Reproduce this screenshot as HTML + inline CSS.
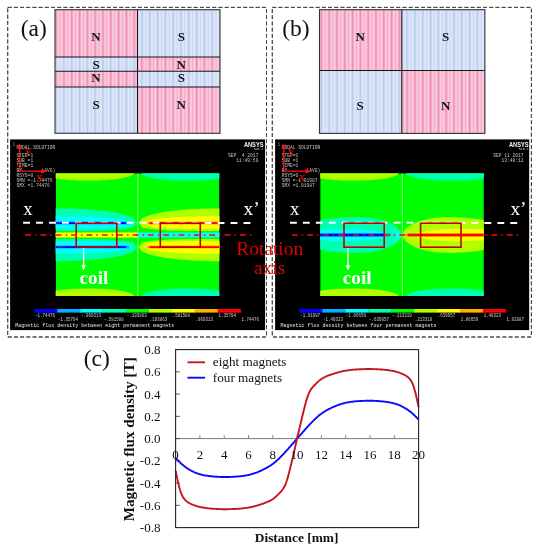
<!DOCTYPE html><html><head><meta charset="utf-8"><title>Figure</title>
<style>html,body{margin:0;padding:0;background:#fff;}svg{display:block;}.s{font-family:"Liberation Serif",serif;}.m{font-family:"Liberation Mono",monospace;fill:#c0c0c0;font-size:4.6px;}.a{font-family:"Liberation Sans",sans-serif;}</style></head><body>
<svg width="536" height="550" viewBox="0 0 536 550">
<defs>
<linearGradient id="gpk" x1="0" x2="1" y1="0" y2="0"><stop offset="0" stop-color="#f9c9dc"/><stop offset="0.2" stop-color="#f086b2"/><stop offset="0.36" stop-color="#f7b5cf"/><stop offset="0.5" stop-color="#fbdbe7"/><stop offset="0.7" stop-color="#f5a3c4"/><stop offset="0.86" stop-color="#fbd5e3"/><stop offset="1" stop-color="#f9c9dc"/></linearGradient>
<linearGradient id="gbl" x1="0" x2="1" y1="0" y2="0"><stop offset="0" stop-color="#d9e4f7"/><stop offset="0.2" stop-color="#b4c9ee"/><stop offset="0.36" stop-color="#d0ddf5"/><stop offset="0.5" stop-color="#e8eefa"/><stop offset="0.7" stop-color="#c5d5f2"/><stop offset="0.86" stop-color="#e4ecfa"/><stop offset="1" stop-color="#d9e4f7"/></linearGradient>
<pattern id="pk" width="7.8" height="8" patternUnits="userSpaceOnUse"><rect width="7.8" height="8" fill="url(#gpk)"/></pattern>
<pattern id="bl" width="7.8" height="8" patternUnits="userSpaceOnUse"><rect width="7.8" height="8" fill="url(#gbl)"/></pattern>
<clipPath id="ca"><rect x="55.7" y="173.3" width="163.7" height="122.8"/></clipPath>
<clipPath id="cb"><rect x="320.2" y="173.3" width="163.6" height="122.8"/></clipPath>
<filter id="bl1" x="-5%" y="-5%" width="110%" height="110%"><feGaussianBlur stdDeviation="0.5"/></filter>
</defs>
<rect width="536" height="550" fill="#fff"/>
<rect x="7.7" y="7.4" width="258.8" height="329.6" fill="none" stroke="#444" stroke-width="0.95" stroke-dasharray="3.9 2.3"/>
<rect x="272.3" y="7.4" width="259.09999999999997" height="329.6" fill="none" stroke="#444" stroke-width="0.95" stroke-dasharray="3.9 2.3"/>
<rect x="55" y="9.7" width="82.5" height="47.3" fill="url(#pk)"/>
<rect x="137.5" y="9.7" width="82.5" height="47.3" fill="url(#bl)"/>
<rect x="55" y="57" width="82.5" height="14.200000000000003" fill="url(#bl)"/>
<rect x="137.5" y="57" width="82.5" height="14.200000000000003" fill="url(#pk)"/>
<rect x="55" y="71.2" width="82.5" height="15.799999999999997" fill="url(#pk)"/>
<rect x="137.5" y="71.2" width="82.5" height="15.799999999999997" fill="url(#bl)"/>
<rect x="55" y="87" width="82.5" height="46.30000000000001" fill="url(#bl)"/>
<rect x="137.5" y="87" width="82.5" height="46.30000000000001" fill="url(#pk)"/>
<line x1="55" y1="57" x2="220" y2="57" stroke="#151515" stroke-width="1.1"/>
<line x1="55" y1="71.2" x2="220" y2="71.2" stroke="#151515" stroke-width="1.1"/>
<line x1="55" y1="87" x2="220" y2="87" stroke="#151515" stroke-width="1.1"/>
<line x1="137.5" y1="9.7" x2="137.5" y2="133.3" stroke="#151515" stroke-width="1.1"/>
<rect x="55" y="9.7" width="165" height="123.60000000000001" fill="none" stroke="#333" stroke-width="1.1"/>
<text class="s" x="96.05" y="40.9" font-size="13" font-weight="bold" text-anchor="middle" fill="#111">N</text>
<text class="s" x="181.25" y="40.9" font-size="13" font-weight="bold" text-anchor="middle" fill="#111">S</text>
<text class="s" x="96.05" y="69.30000000000001" font-size="13" font-weight="bold" text-anchor="middle" fill="#111">S</text>
<text class="s" x="181.25" y="69.30000000000001" font-size="13" font-weight="bold" text-anchor="middle" fill="#111">N</text>
<text class="s" x="96.05" y="82.2" font-size="13" font-weight="bold" text-anchor="middle" fill="#111">N</text>
<text class="s" x="181.25" y="82.2" font-size="13" font-weight="bold" text-anchor="middle" fill="#111">S</text>
<text class="s" x="96.05" y="109.30000000000001" font-size="13" font-weight="bold" text-anchor="middle" fill="#111">S</text>
<text class="s" x="181.25" y="109.30000000000001" font-size="13" font-weight="bold" text-anchor="middle" fill="#111">N</text>
<rect x="319.5" y="9.7" width="82.30000000000001" height="60.8" fill="url(#pk)"/>
<rect x="401.8" y="9.7" width="83.09999999999997" height="60.8" fill="url(#bl)"/>
<rect x="319.5" y="70.5" width="82.30000000000001" height="62.900000000000006" fill="url(#bl)"/>
<rect x="401.8" y="70.5" width="83.09999999999997" height="62.900000000000006" fill="url(#pk)"/>
<line x1="319.5" y1="70.5" x2="484.9" y2="70.5" stroke="#151515" stroke-width="1.1"/>
<line x1="401.8" y1="9.7" x2="401.8" y2="133.4" stroke="#151515" stroke-width="1.1"/>
<rect x="319.5" y="9.7" width="165.39999999999998" height="123.7" fill="none" stroke="#333" stroke-width="1.1"/>
<text class="s" x="360.15" y="41.0" font-size="13" font-weight="bold" text-anchor="middle" fill="#111">N</text>
<text class="s" x="445.65000000000003" y="41.0" font-size="13" font-weight="bold" text-anchor="middle" fill="#111">S</text>
<text class="s" x="360.15" y="110.2" font-size="13" font-weight="bold" text-anchor="middle" fill="#111">S</text>
<text class="s" x="445.65000000000003" y="110.2" font-size="13" font-weight="bold" text-anchor="middle" fill="#111">N</text>
<text class="s" x="20.7" y="36.2" font-size="23.5" fill="#111">(a)</text>
<text class="s" x="282.2" y="36.2" font-size="23.5" fill="#111">(b)</text>
<text class="s" x="83.7" y="365.9" font-size="23.5" fill="#111">(c)</text>
<rect x="10.1" y="139.4" width="255.00000000000003" height="190.70000000000002" fill="#000"/>
<g clip-path="url(#ca)">
<rect x="55.7" y="173.3" width="163.7" height="122.80000000000001" fill="#00ff00"/>
<ellipse cx="88.30000000000001" cy="173.3" rx="45.8" ry="7.2" fill="#b2ff00"/>
<ellipse cx="187.3" cy="173.3" rx="45.8" ry="7.2" fill="#00ffb2"/>
<ellipse cx="88.30000000000001" cy="296.1" rx="45.8" ry="7.6" fill="#b2ff00"/>
<ellipse cx="187.3" cy="296.1" rx="45.8" ry="7.6" fill="#00ffb2"/>
<path d="M54.70 208.40 L58.13 208.41 L61.56 208.44 L64.99 208.49 L68.42 208.56 L71.85 208.66 L75.28 208.78 L78.70 208.93 L82.13 209.11 L85.56 209.32 L88.99 209.56 L92.42 209.83 L95.85 210.13 L99.28 210.48 L102.71 210.87 L106.14 211.31 L109.57 211.80 L113.00 212.35 L116.42 212.98 L119.85 213.70 L123.28 214.54 L126.71 215.53 L130.14 216.77 L133.57 218.47 L137.00 223.00 L137.00 223.00 L133.57 227.20 L130.14 228.14 L126.71 228.75 L123.28 229.20 L119.85 229.55 L116.42 229.83 L113.00 230.05 L109.57 230.24 L106.14 230.40 L102.71 230.52 L99.28 230.63 L95.85 230.72 L92.42 230.79 L88.99 230.84 L85.56 230.89 L82.13 230.92 L78.70 230.95 L75.28 230.97 L71.85 230.98 L68.42 230.99 L64.99 231.00 L61.56 231.00 L58.13 231.00 L54.70 231.00Z" fill="#00ffb2"/>
<path d="M54.70 216.20 L57.89 216.20 L61.08 216.22 L64.28 216.24 L67.47 216.28 L70.66 216.32 L73.85 216.38 L77.04 216.45 L80.23 216.53 L83.43 216.63 L86.62 216.74 L89.81 216.86 L93.00 217.01 L96.19 217.17 L99.38 217.35 L102.58 217.55 L105.77 217.78 L108.96 218.04 L112.15 218.33 L115.34 218.67 L118.53 219.06 L121.73 219.52 L124.92 220.10 L128.11 220.89 L131.30 223.00 L131.30 223.00 L128.11 226.05 L124.92 226.73 L121.73 227.17 L118.53 227.49 L115.34 227.75 L112.15 227.95 L108.96 228.11 L105.77 228.25 L102.58 228.36 L99.38 228.45 L96.19 228.53 L93.00 228.59 L89.81 228.65 L86.62 228.69 L83.43 228.72 L80.23 228.75 L77.04 228.76 L73.85 228.78 L70.66 228.79 L67.47 228.79 L64.28 228.80 L61.08 228.80 L57.89 228.80 L54.70 228.80Z" fill="#00ffff"/>
<rect x="49.70" y="221.60" width="79.60" height="3.0" rx="1.5" fill="#00b2ff"/>
<rect x="49.70" y="222.25" width="76.60" height="1.7" rx="0.85" fill="#0000ff"/>
<path d="M54.70 261.20 L58.13 261.19 L61.56 261.16 L64.99 261.11 L68.42 261.04 L71.85 260.95 L75.28 260.83 L78.70 260.68 L82.13 260.51 L85.56 260.31 L88.99 260.08 L92.42 259.81 L95.85 259.51 L99.28 259.18 L102.71 258.80 L106.14 258.37 L109.57 257.89 L113.00 257.36 L116.42 256.74 L119.85 256.04 L123.28 255.23 L126.71 254.26 L130.14 253.06 L133.57 251.40 L137.00 247.00 L137.00 247.00 L133.57 242.80 L130.14 241.86 L126.71 241.25 L123.28 240.80 L119.85 240.45 L116.42 240.17 L113.00 239.95 L109.57 239.76 L106.14 239.60 L102.71 239.48 L99.28 239.37 L95.85 239.28 L92.42 239.21 L88.99 239.16 L85.56 239.11 L82.13 239.08 L78.70 239.05 L75.28 239.03 L71.85 239.02 L68.42 239.01 L64.99 239.00 L61.56 239.00 L58.13 239.00 L54.70 239.00Z" fill="#00ffb2"/>
<path d="M54.70 253.80 L57.89 253.80 L61.08 253.78 L64.28 253.76 L67.47 253.72 L70.66 253.68 L73.85 253.62 L77.04 253.55 L80.23 253.47 L83.43 253.37 L86.62 253.26 L89.81 253.14 L93.00 252.99 L96.19 252.83 L99.38 252.65 L102.58 252.45 L105.77 252.22 L108.96 251.96 L112.15 251.67 L115.34 251.33 L118.53 250.94 L121.73 250.48 L124.92 249.90 L128.11 249.11 L131.30 247.00 L131.30 247.00 L128.11 243.95 L124.92 243.27 L121.73 242.83 L118.53 242.51 L115.34 242.25 L112.15 242.05 L108.96 241.89 L105.77 241.75 L102.58 241.64 L99.38 241.55 L96.19 241.47 L93.00 241.41 L89.81 241.35 L86.62 241.31 L83.43 241.28 L80.23 241.25 L77.04 241.24 L73.85 241.22 L70.66 241.21 L67.47 241.21 L64.28 241.20 L61.08 241.20 L57.89 241.20 L54.70 241.20Z" fill="#00ffff"/>
<rect x="49.70" y="245.60" width="79.60" height="3.0" rx="1.5" fill="#00b2ff"/>
<rect x="49.70" y="246.25" width="76.60" height="1.7" rx="0.85" fill="#0000ff"/>
<rect x="49.70" y="232.20" width="89.60" height="5.6" rx="2.8" fill="#b2ff00"/>
<rect x="49.70" y="233.10" width="88.60" height="3.8" rx="1.9" fill="#ffff00"/>
<path d="M220.40 208.40 L216.99 208.41 L213.58 208.44 L210.17 208.49 L206.77 208.56 L203.36 208.66 L199.95 208.78 L196.54 208.93 L193.13 209.11 L189.72 209.32 L186.32 209.56 L182.91 209.83 L179.50 210.13 L176.09 210.48 L172.68 210.87 L169.28 211.31 L165.87 211.80 L162.46 212.35 L159.05 212.98 L155.64 213.70 L152.23 214.54 L148.83 215.53 L145.42 216.77 L142.01 218.47 L138.60 223.00 L138.60 223.00 L142.01 227.20 L145.42 228.14 L148.83 228.75 L152.23 229.20 L155.64 229.55 L159.05 229.83 L162.46 230.05 L165.87 230.24 L169.28 230.40 L172.68 230.52 L176.09 230.63 L179.50 230.72 L182.91 230.79 L186.32 230.84 L189.72 230.89 L193.13 230.92 L196.54 230.95 L199.95 230.97 L203.36 230.98 L206.77 230.99 L210.17 231.00 L213.58 231.00 L216.99 231.00 L220.40 231.00Z" fill="#b2ff00"/>
<path d="M220.40 216.20 L217.23 216.20 L214.06 216.22 L210.89 216.24 L207.72 216.28 L204.55 216.32 L201.38 216.38 L198.20 216.45 L195.03 216.53 L191.86 216.63 L188.69 216.74 L185.52 216.86 L182.35 217.01 L179.18 217.17 L176.01 217.35 L172.84 217.55 L169.67 217.78 L166.50 218.04 L163.32 218.33 L160.15 218.67 L156.98 219.06 L153.81 219.52 L150.64 220.10 L147.47 220.89 L144.30 223.00 L144.30 223.00 L147.47 226.05 L150.64 226.73 L153.81 227.17 L156.98 227.49 L160.15 227.75 L163.32 227.95 L166.50 228.11 L169.67 228.25 L172.84 228.36 L176.01 228.45 L179.18 228.53 L182.35 228.59 L185.52 228.65 L188.69 228.69 L191.86 228.72 L195.03 228.75 L198.20 228.76 L201.38 228.78 L204.55 228.79 L207.72 228.79 L210.89 228.80 L214.06 228.80 L217.23 228.80 L220.40 228.80Z" fill="#ffff00"/>
<rect x="146.30" y="221.60" width="79.10" height="3.0" rx="1.5" fill="#ffb200"/>
<rect x="149.30" y="222.25" width="76.10" height="1.7" rx="0.85" fill="#ff0000"/>
<path d="M220.40 261.20 L216.99 261.19 L213.58 261.16 L210.17 261.11 L206.77 261.04 L203.36 260.95 L199.95 260.83 L196.54 260.68 L193.13 260.51 L189.72 260.31 L186.32 260.08 L182.91 259.81 L179.50 259.51 L176.09 259.18 L172.68 258.80 L169.28 258.37 L165.87 257.89 L162.46 257.36 L159.05 256.74 L155.64 256.04 L152.23 255.23 L148.83 254.26 L145.42 253.06 L142.01 251.40 L138.60 247.00 L138.60 247.00 L142.01 242.80 L145.42 241.86 L148.83 241.25 L152.23 240.80 L155.64 240.45 L159.05 240.17 L162.46 239.95 L165.87 239.76 L169.28 239.60 L172.68 239.48 L176.09 239.37 L179.50 239.28 L182.91 239.21 L186.32 239.16 L189.72 239.11 L193.13 239.08 L196.54 239.05 L199.95 239.03 L203.36 239.02 L206.77 239.01 L210.17 239.00 L213.58 239.00 L216.99 239.00 L220.40 239.00Z" fill="#b2ff00"/>
<path d="M220.40 253.80 L217.23 253.80 L214.06 253.78 L210.89 253.76 L207.72 253.72 L204.55 253.68 L201.38 253.62 L198.20 253.55 L195.03 253.47 L191.86 253.37 L188.69 253.26 L185.52 253.14 L182.35 252.99 L179.18 252.83 L176.01 252.65 L172.84 252.45 L169.67 252.22 L166.50 251.96 L163.32 251.67 L160.15 251.33 L156.98 250.94 L153.81 250.48 L150.64 249.90 L147.47 249.11 L144.30 247.00 L144.30 247.00 L147.47 243.95 L150.64 243.27 L153.81 242.83 L156.98 242.51 L160.15 242.25 L163.32 242.05 L166.50 241.89 L169.67 241.75 L172.84 241.64 L176.01 241.55 L179.18 241.47 L182.35 241.41 L185.52 241.35 L188.69 241.31 L191.86 241.28 L195.03 241.25 L198.20 241.24 L201.38 241.22 L204.55 241.21 L207.72 241.21 L210.89 241.20 L214.06 241.20 L217.23 241.20 L220.40 241.20Z" fill="#ffff00"/>
<rect x="146.30" y="245.60" width="79.10" height="3.0" rx="1.5" fill="#ffb200"/>
<rect x="149.30" y="246.25" width="76.10" height="1.7" rx="0.85" fill="#ff0000"/>
<rect x="136.30" y="232.20" width="89.10" height="5.6" rx="2.8" fill="#00ffb2"/>
<rect x="137.30" y="233.10" width="88.10" height="3.8" rx="1.9" fill="#00ffff"/>
<line x1="137.8" y1="173.3" x2="137.8" y2="296.1" stroke="#a6ffa0" stroke-width="0.8"/>
</g>
<text class="m" x="12.5" y="145.5" font-size="4" style="fill:#2a9">1</text>
<text class="m" x="16.6" y="149" xml:space="preserve">NODAL SOLUTION</text>
<text class="m" x="16.6" y="156.9" xml:space="preserve">STEP=1</text>
<text class="m" x="16.6" y="161.9" xml:space="preserve">SUB =1</text>
<text class="m" x="16.6" y="166.9" xml:space="preserve">TIME=1</text>
<text class="m" x="16.6" y="171.7" xml:space="preserve">BY       (AVG)</text>
<text class="m" x="16.6" y="176.9" xml:space="preserve">RSYS=0</text>
<text class="m" x="16.6" y="182.1" xml:space="preserve">SMN =-1.74476</text>
<text class="m" x="16.6" y="187.1" xml:space="preserve">SMX =1.74476</text>
<text class="a" x="263.5" y="146.6" font-size="7.6" font-weight="bold" fill="#f4f4f4" text-anchor="end" textLength="19.6" lengthAdjust="spacingAndGlyphs">ANSYS</text>
<text class="m" x="263.3" y="149.6" font-size="3.2" text-anchor="end" style="font-size:3.2px">R16.1</text>
<text class="m" x="258.4" y="157.1" text-anchor="end" xml:space="preserve">SEP  4 2017</text>
<text class="m" x="258.4" y="162.3" text-anchor="end">11:49:59</text>
<rect x="34.30" y="309" width="23.13" height="3.6" fill="#0000ff"/>
<rect x="57.23" y="309" width="23.13" height="3.6" fill="#00b2ff"/>
<rect x="80.16" y="309" width="23.13" height="3.6" fill="#00ffff"/>
<rect x="103.09" y="309" width="23.13" height="3.6" fill="#00ffb2"/>
<rect x="126.02" y="309" width="23.13" height="3.6" fill="#00ff00"/>
<rect x="148.95" y="309" width="23.13" height="3.6" fill="#b2ff00"/>
<rect x="171.88" y="309" width="23.13" height="3.6" fill="#ffff00"/>
<rect x="194.81" y="309" width="23.13" height="3.6" fill="#ffb200"/>
<rect x="217.74" y="309" width="23.13" height="3.6" fill="#ff0000"/>
<text class="m" x="35.10" y="316.9" style="font-size:4.8px;fill:#d0d0d0" textLength="19.92" lengthAdjust="spacingAndGlyphs">-1.74476</text>
<text class="m" x="58.03" y="320.6" style="font-size:4.8px;fill:#d0d0d0" textLength="19.92" lengthAdjust="spacingAndGlyphs">-1.35704</text>
<text class="m" x="80.96" y="316.9" style="font-size:4.8px;fill:#d0d0d0" textLength="19.92" lengthAdjust="spacingAndGlyphs">-.969313</text>
<text class="m" x="103.89" y="320.6" style="font-size:4.8px;fill:#d0d0d0" textLength="19.92" lengthAdjust="spacingAndGlyphs">-.581588</text>
<text class="m" x="126.82" y="316.9" style="font-size:4.8px;fill:#d0d0d0" textLength="19.92" lengthAdjust="spacingAndGlyphs">-.193863</text>
<text class="m" x="149.75" y="320.6" style="font-size:4.8px;fill:#d0d0d0" textLength="17.43" lengthAdjust="spacingAndGlyphs">.193863</text>
<text class="m" x="172.68" y="316.9" style="font-size:4.8px;fill:#d0d0d0" textLength="17.43" lengthAdjust="spacingAndGlyphs">.581588</text>
<text class="m" x="195.61" y="320.6" style="font-size:4.8px;fill:#d0d0d0" textLength="17.43" lengthAdjust="spacingAndGlyphs">.969313</text>
<text class="m" x="218.54" y="316.9" style="font-size:4.8px;fill:#d0d0d0" textLength="17.43" lengthAdjust="spacingAndGlyphs">1.35704</text>
<text class="m" x="241.47" y="320.6" style="font-size:4.8px;fill:#d0d0d0" textLength="17.43" lengthAdjust="spacingAndGlyphs">1.74476</text>
<text class="m" x="15.3" y="326.7" style="font-size:5px;fill:#e8e8e8">Magnetic flux density between eight permanent magnets</text>
<path d="M19.6 146 V171.2 H43.6" fill="none" stroke="#ff1010" stroke-width="1.3"/>
<path d="M17.200000000000003 148.6 L19.6 143.4 L22.0 148.6 Z" fill="#ff1010"/>
<path d="M41.2 168.9 L46.400000000000006 171.3 L41.2 173.7 Z" fill="#ff1010"/>
<text class="s" x="24.700000000000003" y="154.3" font-size="13.5" fill="#ff1010">y</text>
<text class="s" x="35.900000000000006" y="181.2" font-size="13.5" fill="#ff1010">x</text>
<line x1="23.1" y1="222.8" x2="251" y2="222.9" stroke="#fff" stroke-width="2" stroke-dasharray="6.9 6.065"/>
<rect x="76.2" y="223.2" width="40.599999999999994" height="24" fill="none" stroke="#c00000" stroke-width="1.6"/>
<rect x="160.3" y="223.2" width="40.0" height="24" fill="none" stroke="#c00000" stroke-width="1.6"/>
<line x1="25.1" y1="235.1" x2="252.6" y2="235.1" stroke="#f60808" stroke-width="1.5" stroke-dasharray="5.8 4.1 1.4 4.05"/>
<text class="s" x="23.2" y="215" font-size="18.8" fill="#fff">x</text>
<text class="s" x="243.6" y="215" font-size="19.4" fill="#fff">x’</text>
<line x1="83.60000000000001" y1="248" x2="83.60000000000001" y2="266.5" stroke="#fff" stroke-width="1.3"/>
<path d="M81.30000000000001 265.2 L83.60000000000001 270.4 L85.9 265.2 Z" fill="#fff"/>
<text class="s" x="79.5" y="284" font-size="19.3" font-weight="bold" fill="#fff">coil</text>
<rect x="275.1" y="139.4" width="254.10000000000002" height="190.70000000000002" fill="#000"/>
<g clip-path="url(#cb)">
<rect x="320.2" y="173.3" width="163.7" height="122.80000000000001" fill="#00ff00"/>
<ellipse cx="352.79999999999995" cy="173.3" rx="45.8" ry="7.2" fill="#b2ff00"/>
<ellipse cx="451.79999999999995" cy="173.3" rx="45.8" ry="7.2" fill="#00ffb2"/>
<ellipse cx="352.79999999999995" cy="296.1" rx="45.8" ry="7.6" fill="#b2ff00"/>
<ellipse cx="451.79999999999995" cy="296.1" rx="45.8" ry="7.6" fill="#00ffb2"/>
<path d="M401.80 235.00 L400.74 231.46 L399.67 229.93 L398.61 228.77 L397.55 227.79 L396.49 226.94 L395.42 226.19 L394.36 225.51 L393.30 224.88 L392.24 224.31 L391.17 223.77 L390.11 223.28 L389.05 222.81 L387.99 222.38 L386.92 221.97 L385.86 221.58 L384.80 221.22 L383.74 220.88 L382.67 220.56 L381.61 220.26 L380.55 219.98 L379.49 219.71 L378.42 219.46 L377.36 219.23 L376.30 219.01 L375.24 218.80 L374.17 218.61 L373.11 218.43 L372.05 218.27 L370.99 218.12 L369.92 217.98 L368.86 217.86 L367.80 217.74 L366.74 217.64 L365.67 217.56 L364.61 217.48 L363.55 217.42 L362.49 217.37 L361.42 217.33 L360.36 217.31 L359.30 217.30 L357.90 217.30 L356.50 217.30 L355.10 217.31 L353.70 217.32 L352.30 217.33 L350.90 217.35 L349.50 217.37 L348.10 217.40 L346.70 217.44 L345.30 217.49 L343.90 217.54 L342.50 217.60 L341.10 217.67 L339.70 217.75 L338.30 217.84 L336.90 217.95 L335.50 218.06 L334.10 218.19 L332.70 218.33 L331.30 218.49 L329.90 218.66 L328.50 218.84 L327.10 219.05 L325.70 219.28 L324.30 219.52 L322.90 219.79 L321.50 220.09 L320.10 220.42 L318.70 220.77 L317.30 221.17 L315.90 221.60 L314.50 222.09 L313.10 222.63 L311.70 223.25 L310.30 223.96 L308.90 224.78 L307.50 225.78 L306.10 227.05 L304.70 228.86 L303.30 235.00 L303.30 235.00 L304.70 241.14 L306.10 242.95 L307.50 244.22 L308.90 245.22 L310.30 246.04 L311.70 246.75 L313.10 247.37 L314.50 247.91 L315.90 248.40 L317.30 248.83 L318.70 249.23 L320.10 249.58 L321.50 249.91 L322.90 250.21 L324.30 250.48 L325.70 250.72 L327.10 250.95 L328.50 251.16 L329.90 251.34 L331.30 251.51 L332.70 251.67 L334.10 251.81 L335.50 251.94 L336.90 252.05 L338.30 252.16 L339.70 252.25 L341.10 252.33 L342.50 252.40 L343.90 252.46 L345.30 252.51 L346.70 252.56 L348.10 252.60 L349.50 252.63 L350.90 252.65 L352.30 252.67 L353.70 252.68 L355.10 252.69 L356.50 252.70 L357.90 252.70 L359.30 252.70 L360.36 252.69 L361.42 252.67 L362.49 252.63 L363.55 252.58 L364.61 252.52 L365.67 252.44 L366.74 252.36 L367.80 252.26 L368.86 252.14 L369.92 252.02 L370.99 251.88 L372.05 251.73 L373.11 251.57 L374.17 251.39 L375.24 251.20 L376.30 250.99 L377.36 250.77 L378.42 250.54 L379.49 250.29 L380.55 250.02 L381.61 249.74 L382.67 249.44 L383.74 249.12 L384.80 248.78 L385.86 248.42 L386.92 248.03 L387.99 247.62 L389.05 247.19 L390.11 246.72 L391.17 246.23 L392.24 245.69 L393.30 245.12 L394.36 244.49 L395.42 243.81 L396.49 243.06 L397.55 242.21 L398.61 241.23 L399.67 240.07 L400.74 238.54 L401.80 235.00Z" fill="#00ffb2"/>
<path d="M390.30 235.00 L389.35 234.19 L388.40 233.75 L387.45 233.40 L386.50 233.10 L385.55 232.82 L384.60 232.57 L383.65 232.34 L382.70 232.12 L381.75 231.92 L380.80 231.73 L379.85 231.55 L378.90 231.38 L377.95 231.21 L377.00 231.05 L376.05 230.90 L375.10 230.76 L374.15 230.63 L373.20 230.49 L372.25 230.37 L371.30 230.25 L370.35 230.14 L369.40 230.03 L368.45 229.92 L367.50 229.82 L366.55 229.73 L365.60 229.64 L364.65 229.55 L363.70 229.47 L362.75 229.40 L361.80 229.32 L360.85 229.26 L359.90 229.19 L358.95 229.14 L358.00 229.08 L357.05 229.04 L356.10 229.00 L355.15 228.96 L354.20 228.93 L353.25 228.91 L352.30 228.90 L350.80 228.90 L349.30 228.90 L347.80 228.91 L346.30 228.92 L344.80 228.93 L343.30 228.94 L341.80 228.96 L340.30 228.98 L338.80 229.01 L337.30 229.03 L335.80 229.06 L334.30 229.10 L332.80 229.14 L331.30 229.18 L329.80 229.23 L328.30 229.28 L326.80 229.34 L325.30 229.40 L323.80 229.47 L322.30 229.54 L320.80 229.62 L319.30 229.71 L317.80 229.80 L316.30 229.90 L314.80 230.00 L313.30 230.12 L311.80 230.24 L310.30 230.38 L308.80 230.52 L307.30 230.68 L305.80 230.85 L304.30 231.03 L302.80 231.24 L301.30 231.47 L299.80 231.72 L298.30 232.02 L296.80 232.37 L295.30 232.79 L293.80 233.38 L292.30 235.00 L292.30 235.00 L293.80 236.62 L295.30 237.21 L296.80 237.63 L298.30 237.98 L299.80 238.28 L301.30 238.53 L302.80 238.76 L304.30 238.97 L305.80 239.15 L307.30 239.32 L308.80 239.48 L310.30 239.62 L311.80 239.76 L313.30 239.88 L314.80 240.00 L316.30 240.10 L317.80 240.20 L319.30 240.29 L320.80 240.38 L322.30 240.46 L323.80 240.53 L325.30 240.60 L326.80 240.66 L328.30 240.72 L329.80 240.77 L331.30 240.82 L332.80 240.86 L334.30 240.90 L335.80 240.94 L337.30 240.97 L338.80 240.99 L340.30 241.02 L341.80 241.04 L343.30 241.06 L344.80 241.07 L346.30 241.08 L347.80 241.09 L349.30 241.10 L350.80 241.10 L352.30 241.10 L353.25 241.09 L354.20 241.07 L355.15 241.04 L356.10 241.00 L357.05 240.96 L358.00 240.92 L358.95 240.86 L359.90 240.81 L360.85 240.74 L361.80 240.68 L362.75 240.60 L363.70 240.53 L364.65 240.45 L365.60 240.36 L366.55 240.27 L367.50 240.18 L368.45 240.08 L369.40 239.97 L370.35 239.86 L371.30 239.75 L372.25 239.63 L373.20 239.51 L374.15 239.37 L375.10 239.24 L376.05 239.10 L377.00 238.95 L377.95 238.79 L378.90 238.62 L379.85 238.45 L380.80 238.27 L381.75 238.08 L382.70 237.88 L383.65 237.66 L384.60 237.43 L385.55 237.18 L386.50 236.90 L387.45 236.60 L388.40 236.25 L389.35 235.81 L390.30 235.00Z" fill="#00ffff"/>
<rect x="315.20" y="233.30" width="76.10" height="3.4" rx="1.7" fill="#00b2ff"/>
<rect x="315.20" y="233.80" width="70.10" height="2.4" rx="1.2" fill="#0000ff"/>
<path d="M402.80 235.00 L403.86 231.46 L404.92 229.93 L405.99 228.77 L407.05 227.79 L408.11 226.94 L409.17 226.19 L410.24 225.51 L411.30 224.88 L412.36 224.31 L413.42 223.77 L414.49 223.28 L415.55 222.81 L416.61 222.38 L417.67 221.97 L418.74 221.58 L419.80 221.22 L420.86 220.88 L421.92 220.56 L422.99 220.26 L424.05 219.98 L425.11 219.71 L426.17 219.46 L427.24 219.23 L428.30 219.01 L429.36 218.80 L430.42 218.61 L431.49 218.43 L432.55 218.27 L433.61 218.12 L434.67 217.98 L435.74 217.86 L436.80 217.74 L437.86 217.64 L438.92 217.56 L439.99 217.48 L441.05 217.42 L442.11 217.37 L443.17 217.33 L444.24 217.31 L445.30 217.30 L446.70 217.30 L448.10 217.30 L449.50 217.31 L450.90 217.32 L452.30 217.33 L453.70 217.35 L455.10 217.37 L456.50 217.40 L457.90 217.44 L459.30 217.49 L460.70 217.54 L462.10 217.60 L463.50 217.67 L464.90 217.75 L466.30 217.84 L467.70 217.95 L469.10 218.06 L470.50 218.19 L471.90 218.33 L473.30 218.49 L474.70 218.66 L476.10 218.84 L477.50 219.05 L478.90 219.28 L480.30 219.52 L481.70 219.79 L483.10 220.09 L484.50 220.42 L485.90 220.77 L487.30 221.17 L488.70 221.60 L490.10 222.09 L491.50 222.63 L492.90 223.25 L494.30 223.96 L495.70 224.78 L497.10 225.78 L498.50 227.05 L499.90 228.86 L501.30 235.00 L501.30 235.00 L499.90 241.14 L498.50 242.95 L497.10 244.22 L495.70 245.22 L494.30 246.04 L492.90 246.75 L491.50 247.37 L490.10 247.91 L488.70 248.40 L487.30 248.83 L485.90 249.23 L484.50 249.58 L483.10 249.91 L481.70 250.21 L480.30 250.48 L478.90 250.72 L477.50 250.95 L476.10 251.16 L474.70 251.34 L473.30 251.51 L471.90 251.67 L470.50 251.81 L469.10 251.94 L467.70 252.05 L466.30 252.16 L464.90 252.25 L463.50 252.33 L462.10 252.40 L460.70 252.46 L459.30 252.51 L457.90 252.56 L456.50 252.60 L455.10 252.63 L453.70 252.65 L452.30 252.67 L450.90 252.68 L449.50 252.69 L448.10 252.70 L446.70 252.70 L445.30 252.70 L444.24 252.69 L443.17 252.67 L442.11 252.63 L441.05 252.58 L439.99 252.52 L438.92 252.44 L437.86 252.36 L436.80 252.26 L435.74 252.14 L434.67 252.02 L433.61 251.88 L432.55 251.73 L431.49 251.57 L430.42 251.39 L429.36 251.20 L428.30 250.99 L427.24 250.77 L426.17 250.54 L425.11 250.29 L424.05 250.02 L422.99 249.74 L421.92 249.44 L420.86 249.12 L419.80 248.78 L418.74 248.42 L417.67 248.03 L416.61 247.62 L415.55 247.19 L414.49 246.72 L413.42 246.23 L412.36 245.69 L411.30 245.12 L410.24 244.49 L409.17 243.81 L408.11 243.06 L407.05 242.21 L405.99 241.23 L404.92 240.07 L403.86 238.54 L402.80 235.00Z" fill="#b2ff00"/>
<path d="M411.30 235.00 L412.32 234.19 L413.35 233.75 L414.37 233.40 L415.40 233.10 L416.42 232.82 L417.45 232.57 L418.47 232.34 L419.50 232.12 L420.52 231.92 L421.55 231.73 L422.57 231.55 L423.60 231.38 L424.62 231.21 L425.65 231.05 L426.67 230.90 L427.70 230.76 L428.72 230.63 L429.75 230.49 L430.77 230.37 L431.80 230.25 L432.82 230.14 L433.85 230.03 L434.87 229.92 L435.90 229.82 L436.92 229.73 L437.95 229.64 L438.97 229.55 L440.00 229.47 L441.02 229.40 L442.05 229.32 L443.07 229.26 L444.10 229.19 L445.12 229.14 L446.15 229.08 L447.17 229.04 L448.20 229.00 L449.22 228.96 L450.25 228.93 L451.27 228.91 L452.30 228.90 L453.80 228.90 L455.30 228.90 L456.80 228.91 L458.30 228.92 L459.80 228.93 L461.30 228.94 L462.80 228.96 L464.30 228.98 L465.80 229.01 L467.30 229.03 L468.80 229.06 L470.30 229.10 L471.80 229.14 L473.30 229.18 L474.80 229.23 L476.30 229.28 L477.80 229.34 L479.30 229.40 L480.80 229.47 L482.30 229.54 L483.80 229.62 L485.30 229.71 L486.80 229.80 L488.30 229.90 L489.80 230.00 L491.30 230.12 L492.80 230.24 L494.30 230.38 L495.80 230.52 L497.30 230.68 L498.80 230.85 L500.30 231.03 L501.80 231.24 L503.30 231.47 L504.80 231.72 L506.30 232.02 L507.80 232.37 L509.30 232.79 L510.80 233.38 L512.30 235.00 L512.30 235.00 L510.80 236.62 L509.30 237.21 L507.80 237.63 L506.30 237.98 L504.80 238.28 L503.30 238.53 L501.80 238.76 L500.30 238.97 L498.80 239.15 L497.30 239.32 L495.80 239.48 L494.30 239.62 L492.80 239.76 L491.30 239.88 L489.80 240.00 L488.30 240.10 L486.80 240.20 L485.30 240.29 L483.80 240.38 L482.30 240.46 L480.80 240.53 L479.30 240.60 L477.80 240.66 L476.30 240.72 L474.80 240.77 L473.30 240.82 L471.80 240.86 L470.30 240.90 L468.80 240.94 L467.30 240.97 L465.80 240.99 L464.30 241.02 L462.80 241.04 L461.30 241.06 L459.80 241.07 L458.30 241.08 L456.80 241.09 L455.30 241.10 L453.80 241.10 L452.30 241.10 L451.27 241.09 L450.25 241.07 L449.22 241.04 L448.20 241.00 L447.17 240.96 L446.15 240.92 L445.12 240.86 L444.10 240.81 L443.07 240.74 L442.05 240.68 L441.02 240.60 L440.00 240.53 L438.97 240.45 L437.95 240.36 L436.92 240.27 L435.90 240.18 L434.87 240.08 L433.85 239.97 L432.82 239.86 L431.80 239.75 L430.77 239.63 L429.75 239.51 L428.72 239.37 L427.70 239.24 L426.67 239.10 L425.65 238.95 L424.62 238.79 L423.60 238.62 L422.57 238.45 L421.55 238.27 L420.52 238.08 L419.50 237.88 L418.47 237.66 L417.45 237.43 L416.42 237.18 L415.40 236.90 L414.37 236.60 L413.35 236.25 L412.32 235.81 L411.30 235.00Z" fill="#ffff00"/>
<rect x="404.30" y="233.20" width="84.60" height="3.6" rx="1.8" fill="#ffb200"/>
<rect x="407.30" y="233.80" width="81.60" height="2.4" rx="1.2" fill="#ff0000"/>
<path d="M401.9 235 L395.29999999999995 229.6 V240.4 Z" fill="#00ffff"/>
<line x1="402.29999999999995" y1="173.3" x2="402.29999999999995" y2="296.1" stroke="#a6ffa0" stroke-width="0.8"/>
</g>
<text class="m" x="277.6" y="145.5" font-size="4" style="fill:#2a9">1</text>
<text class="m" x="281.70000000000005" y="149" xml:space="preserve">NODAL SOLUTION</text>
<text class="m" x="281.70000000000005" y="156.9" xml:space="preserve">STEP=1</text>
<text class="m" x="281.70000000000005" y="161.9" xml:space="preserve">SUB =1</text>
<text class="m" x="281.70000000000005" y="166.9" xml:space="preserve">TIME=1</text>
<text class="m" x="281.70000000000005" y="171.7" xml:space="preserve">BY       (AVG)</text>
<text class="m" x="281.70000000000005" y="176.9" xml:space="preserve">RSYS=0</text>
<text class="m" x="281.70000000000005" y="182.1" xml:space="preserve">SMN =-1.91987</text>
<text class="m" x="281.70000000000005" y="187.1" xml:space="preserve">SMX =1.91987</text>
<text class="a" x="528.6" y="146.6" font-size="7.6" font-weight="bold" fill="#f4f4f4" text-anchor="end" textLength="19.6" lengthAdjust="spacingAndGlyphs">ANSYS</text>
<text class="m" x="528.4000000000001" y="149.6" font-size="3.2" text-anchor="end" style="font-size:3.2px">R16.1</text>
<text class="m" x="523.5" y="157.1" text-anchor="end" xml:space="preserve">SEP 11 2017</text>
<text class="m" x="523.5" y="162.3" text-anchor="end">13:49:12</text>
<rect x="299.40" y="309" width="23.13" height="3.6" fill="#0000ff"/>
<rect x="322.33" y="309" width="23.13" height="3.6" fill="#00b2ff"/>
<rect x="345.26" y="309" width="23.13" height="3.6" fill="#00ffff"/>
<rect x="368.19" y="309" width="23.13" height="3.6" fill="#00ffb2"/>
<rect x="391.12" y="309" width="23.13" height="3.6" fill="#00ff00"/>
<rect x="414.05" y="309" width="23.13" height="3.6" fill="#b2ff00"/>
<rect x="436.98" y="309" width="23.13" height="3.6" fill="#ffff00"/>
<rect x="459.91" y="309" width="23.13" height="3.6" fill="#ffb200"/>
<rect x="482.84" y="309" width="23.13" height="3.6" fill="#ff0000"/>
<text class="m" x="300.20" y="316.9" style="font-size:4.8px;fill:#d0d0d0" textLength="19.92" lengthAdjust="spacingAndGlyphs">-1.91987</text>
<text class="m" x="323.13" y="320.6" style="font-size:4.8px;fill:#d0d0d0" textLength="19.92" lengthAdjust="spacingAndGlyphs">-1.49323</text>
<text class="m" x="346.06" y="316.9" style="font-size:4.8px;fill:#d0d0d0" textLength="19.92" lengthAdjust="spacingAndGlyphs">-1.06659</text>
<text class="m" x="368.99" y="320.6" style="font-size:4.8px;fill:#d0d0d0" textLength="19.92" lengthAdjust="spacingAndGlyphs">-.639957</text>
<text class="m" x="391.92" y="316.9" style="font-size:4.8px;fill:#d0d0d0" textLength="19.92" lengthAdjust="spacingAndGlyphs">-.213319</text>
<text class="m" x="414.85" y="320.6" style="font-size:4.8px;fill:#d0d0d0" textLength="17.43" lengthAdjust="spacingAndGlyphs">.213319</text>
<text class="m" x="437.78" y="316.9" style="font-size:4.8px;fill:#d0d0d0" textLength="17.43" lengthAdjust="spacingAndGlyphs">.639957</text>
<text class="m" x="460.71" y="320.6" style="font-size:4.8px;fill:#d0d0d0" textLength="17.43" lengthAdjust="spacingAndGlyphs">1.06659</text>
<text class="m" x="483.64" y="316.9" style="font-size:4.8px;fill:#d0d0d0" textLength="17.43" lengthAdjust="spacingAndGlyphs">1.49323</text>
<text class="m" x="506.57" y="320.6" style="font-size:4.8px;fill:#d0d0d0" textLength="17.43" lengthAdjust="spacingAndGlyphs">1.91987</text>
<text class="m" x="280.40000000000003" y="326.7" style="font-size:5px;fill:#e8e8e8">Magnetic flux density between four permanent magnets</text>
<path d="M283.8 146 V171.2 H307.8" fill="none" stroke="#ff1010" stroke-width="1.3"/>
<path d="M281.40000000000003 148.6 L283.8 143.4 L286.2 148.6 Z" fill="#ff1010"/>
<path d="M305.40000000000003 168.9 L310.6 171.3 L305.40000000000003 173.7 Z" fill="#ff1010"/>
<text class="s" x="287.6" y="154.3" font-size="13.5" fill="#ff1010">y</text>
<text class="s" x="298.8" y="181.2" font-size="13.5" fill="#ff1010">x</text>
<line x1="289.90000000000003" y1="222.8" x2="517.8" y2="222.9" stroke="#fff" stroke-width="2" stroke-dasharray="6.9 6.065"/>
<rect x="344" y="223.2" width="40.19999999999999" height="24" fill="none" stroke="#c00000" stroke-width="1.6"/>
<rect x="420.6" y="223.2" width="40.39999999999998" height="24" fill="none" stroke="#c00000" stroke-width="1.6"/>
<line x1="291.90000000000003" y1="235.1" x2="519.4" y2="235.1" stroke="#f60808" stroke-width="1.5" stroke-dasharray="5.8 4.1 1.4 4.05"/>
<text class="s" x="290.0" y="215" font-size="18.8" fill="#fff">x</text>
<text class="s" x="510.4" y="215" font-size="19.4" fill="#fff">x’</text>
<line x1="348.0" y1="248" x2="348.0" y2="266.5" stroke="#fff" stroke-width="1.3"/>
<path d="M345.7 265.2 L348.0 270.4 L350.3 265.2 Z" fill="#fff"/>
<text class="s" x="342.7" y="284" font-size="19.3" font-weight="bold" fill="#fff">coil</text>
<text class="s" x="269.7" y="255.2" font-size="19.4" fill="#dc0000" text-anchor="middle">Rotation</text>
<text class="s" x="269.6" y="274.2" font-size="19.4" fill="#dc0000" text-anchor="middle">axis</text>
<rect x="7.7" y="7.4" width="258.8" height="329.6" fill="none" stroke="#444" stroke-width="0.95" stroke-dasharray="3.9 2.3"/>
<rect x="272.3" y="7.4" width="259.09999999999997" height="329.6" fill="none" stroke="#444" stroke-width="0.95" stroke-dasharray="3.9 2.3"/>
<line x1="175.6" y1="438.6" x2="418.6" y2="438.6" stroke="#7a7a7a" stroke-width="1"/>
<line x1="199.90" y1="438.6" x2="199.90" y2="435.20000000000005" stroke="#7a7a7a" stroke-width="0.9"/>
<line x1="224.20" y1="438.6" x2="224.20" y2="435.20000000000005" stroke="#7a7a7a" stroke-width="0.9"/>
<line x1="248.50" y1="438.6" x2="248.50" y2="435.20000000000005" stroke="#7a7a7a" stroke-width="0.9"/>
<line x1="272.80" y1="438.6" x2="272.80" y2="435.20000000000005" stroke="#7a7a7a" stroke-width="0.9"/>
<line x1="297.10" y1="438.6" x2="297.10" y2="435.20000000000005" stroke="#7a7a7a" stroke-width="0.9"/>
<line x1="321.40" y1="438.6" x2="321.40" y2="435.20000000000005" stroke="#7a7a7a" stroke-width="0.9"/>
<line x1="345.70" y1="438.6" x2="345.70" y2="435.20000000000005" stroke="#7a7a7a" stroke-width="0.9"/>
<line x1="370.00" y1="438.6" x2="370.00" y2="435.20000000000005" stroke="#7a7a7a" stroke-width="0.9"/>
<line x1="394.30" y1="438.6" x2="394.30" y2="435.20000000000005" stroke="#7a7a7a" stroke-width="0.9"/>
<line x1="175.6" y1="371.85" x2="179.79999999999998" y2="371.85" stroke="#444" stroke-width="0.9"/>
<line x1="175.6" y1="394.10" x2="179.79999999999998" y2="394.10" stroke="#444" stroke-width="0.9"/>
<line x1="175.6" y1="416.35" x2="179.79999999999998" y2="416.35" stroke="#444" stroke-width="0.9"/>
<line x1="175.6" y1="438.60" x2="179.79999999999998" y2="438.60" stroke="#444" stroke-width="0.9"/>
<line x1="175.6" y1="460.85" x2="179.79999999999998" y2="460.85" stroke="#444" stroke-width="0.9"/>
<line x1="175.6" y1="483.10" x2="179.79999999999998" y2="483.10" stroke="#444" stroke-width="0.9"/>
<line x1="175.6" y1="505.35" x2="179.79999999999998" y2="505.35" stroke="#444" stroke-width="0.9"/>
<path d="M175.60 457.96 L176.21 458.60 L176.81 459.23 L177.42 459.86 L178.03 460.49 L178.64 461.10 L179.25 461.71 L179.85 462.30 L180.46 462.88 L181.07 463.44 L181.67 463.99 L182.28 464.53 L182.89 465.04 L183.50 465.55 L184.10 466.03 L184.71 466.50 L185.32 466.96 L185.93 467.40 L186.53 467.82 L187.14 468.23 L187.75 468.63 L188.36 469.01 L188.97 469.39 L189.57 469.75 L190.18 470.10 L190.79 470.43 L191.40 470.76 L192.00 471.08 L192.61 471.39 L193.22 471.69 L193.82 471.97 L194.43 472.25 L195.04 472.51 L195.65 472.77 L196.25 473.01 L196.86 473.24 L197.47 473.46 L198.08 473.67 L198.69 473.87 L199.29 474.06 L199.90 474.24 L200.51 474.41 L201.12 474.57 L201.72 474.72 L202.33 474.86 L202.94 475.00 L203.55 475.12 L204.15 475.25 L204.76 475.36 L205.37 475.47 L205.97 475.58 L206.58 475.68 L207.19 475.77 L207.80 475.86 L208.41 475.95 L209.01 476.03 L209.62 476.10 L210.23 476.18 L210.84 476.24 L211.44 476.31 L212.05 476.37 L212.66 476.43 L213.26 476.49 L213.87 476.54 L214.48 476.59 L215.09 476.64 L215.69 476.68 L216.30 476.72 L216.91 476.76 L217.52 476.80 L218.12 476.84 L218.73 476.87 L219.34 476.90 L219.95 476.93 L220.56 476.95 L221.16 476.97 L221.77 476.99 L222.38 477.01 L222.99 477.02 L223.59 477.03 L224.20 477.03 L224.81 477.03 L225.42 477.03 L226.02 477.03 L226.63 477.02 L227.24 477.01 L227.84 477.00 L228.45 476.98 L229.06 476.96 L229.67 476.95 L230.28 476.92 L230.88 476.90 L231.49 476.87 L232.10 476.85 L232.71 476.82 L233.31 476.79 L233.92 476.75 L234.53 476.72 L235.14 476.68 L235.74 476.64 L236.35 476.60 L236.96 476.55 L237.56 476.51 L238.17 476.45 L238.78 476.40 L239.39 476.34 L240.00 476.28 L240.60 476.21 L241.21 476.14 L241.82 476.07 L242.43 475.99 L243.03 475.91 L243.64 475.83 L244.25 475.74 L244.86 475.64 L245.46 475.54 L246.07 475.43 L246.68 475.32 L247.29 475.20 L247.89 475.08 L248.50 474.95 L249.11 474.81 L249.72 474.67 L250.32 474.51 L250.93 474.35 L251.54 474.18 L252.15 474.00 L252.75 473.82 L253.36 473.62 L253.97 473.42 L254.57 473.21 L255.18 472.99 L255.79 472.77 L256.40 472.54 L257.00 472.31 L257.61 472.06 L258.22 471.82 L258.83 471.57 L259.44 471.31 L260.04 471.05 L260.65 470.78 L261.26 470.51 L261.87 470.23 L262.47 469.95 L263.08 469.66 L263.69 469.37 L264.30 469.07 L264.90 468.76 L265.51 468.44 L266.12 468.12 L266.73 467.79 L267.33 467.45 L267.94 467.10 L268.55 466.74 L269.16 466.37 L269.76 465.99 L270.37 465.60 L270.98 465.19 L271.59 464.78 L272.19 464.35 L272.80 463.91 L273.41 463.45 L274.01 462.98 L274.62 462.49 L275.23 461.99 L275.84 461.47 L276.45 460.94 L277.05 460.40 L277.66 459.84 L278.27 459.27 L278.88 458.69 L279.48 458.10 L280.09 457.49 L280.70 456.88 L281.31 456.26 L281.91 455.64 L282.52 455.00 L283.13 454.36 L283.74 453.72 L284.34 453.06 L284.95 452.41 L285.56 451.74 L286.17 451.08 L286.77 450.40 L287.38 449.73 L287.99 449.05 L288.60 448.36 L289.20 447.68 L289.81 446.99 L290.42 446.29 L291.03 445.60 L291.63 444.90 L292.24 444.20 L292.85 443.51 L293.46 442.81 L294.06 442.11 L294.67 441.40 L295.28 440.70 L295.88 440.00 L296.49 439.30 L297.10 438.60 L297.71 437.91 L298.32 437.22 L298.92 436.53 L299.53 435.84 L300.14 435.15 L300.75 434.46 L301.35 433.77 L301.96 433.08 L302.57 432.39 L303.18 431.71 L303.78 431.02 L304.39 430.34 L305.00 429.66 L305.61 428.98 L306.21 428.31 L306.82 427.64 L307.43 426.97 L308.04 426.31 L308.64 425.65 L309.25 425.00 L309.86 424.35 L310.47 423.71 L311.07 423.07 L311.68 422.44 L312.29 421.82 L312.90 421.20 L313.50 420.59 L314.11 419.99 L314.72 419.40 L315.33 418.81 L315.93 418.24 L316.54 417.68 L317.15 417.13 L317.75 416.59 L318.36 416.07 L318.97 415.56 L319.58 415.07 L320.19 414.59 L320.79 414.12 L321.40 413.67 L322.01 413.24 L322.62 412.81 L323.22 412.40 L323.83 412.01 L324.44 411.62 L325.05 411.25 L325.65 410.88 L326.26 410.53 L326.87 410.18 L327.48 409.85 L328.08 409.52 L328.69 409.20 L329.30 408.89 L329.91 408.59 L330.51 408.29 L331.12 408.00 L331.73 407.72 L332.34 407.44 L332.94 407.17 L333.55 406.90 L334.16 406.64 L334.77 406.38 L335.37 406.13 L335.98 405.88 L336.59 405.64 L337.20 405.40 L337.80 405.17 L338.41 404.94 L339.02 404.72 L339.62 404.51 L340.23 404.30 L340.84 404.10 L341.45 403.91 L342.06 403.73 L342.66 403.55 L343.27 403.39 L343.88 403.23 L344.49 403.08 L345.09 402.93 L345.70 402.80 L346.31 402.67 L346.92 402.54 L347.52 402.43 L348.13 402.32 L348.74 402.21 L349.35 402.12 L349.95 402.02 L350.56 401.93 L351.17 401.85 L351.78 401.77 L352.38 401.69 L352.99 401.62 L353.60 401.55 L354.21 401.49 L354.81 401.42 L355.42 401.37 L356.03 401.31 L356.63 401.26 L357.24 401.22 L357.85 401.17 L358.46 401.13 L359.07 401.09 L359.67 401.05 L360.28 401.02 L360.89 400.99 L361.50 400.96 L362.10 400.93 L362.71 400.90 L363.32 400.87 L363.93 400.85 L364.53 400.83 L365.14 400.81 L365.75 400.79 L366.36 400.78 L366.96 400.77 L367.57 400.76 L368.18 400.75 L368.79 400.75 L369.39 400.74 L370.00 400.75 L370.61 400.75 L371.22 400.76 L371.82 400.77 L372.43 400.79 L373.04 400.80 L373.65 400.82 L374.25 400.85 L374.86 400.87 L375.47 400.90 L376.08 400.94 L376.68 400.97 L377.29 401.01 L377.90 401.05 L378.50 401.09 L379.11 401.13 L379.72 401.18 L380.33 401.23 L380.94 401.28 L381.54 401.34 L382.15 401.40 L382.76 401.46 L383.37 401.52 L383.97 401.59 L384.58 401.66 L385.19 401.73 L385.80 401.81 L386.40 401.90 L387.01 401.99 L387.62 402.08 L388.23 402.18 L388.83 402.28 L389.44 402.39 L390.05 402.50 L390.66 402.62 L391.26 402.75 L391.87 402.88 L392.48 403.02 L393.09 403.17 L393.69 403.33 L394.30 403.50 L394.91 403.67 L395.52 403.86 L396.12 404.05 L396.73 404.26 L397.34 404.48 L397.95 404.71 L398.55 404.94 L399.16 405.19 L399.77 405.46 L400.38 405.73 L400.98 406.01 L401.59 406.30 L402.20 406.61 L402.81 406.92 L403.41 407.24 L404.02 407.58 L404.63 407.92 L405.24 408.28 L405.84 408.64 L406.45 409.02 L407.06 409.41 L407.67 409.82 L408.27 410.24 L408.88 410.67 L409.49 411.12 L410.10 411.58 L410.70 412.06 L411.31 412.55 L411.92 413.06 L412.53 413.59 L413.13 414.13 L413.74 414.68 L414.35 415.25 L414.96 415.84 L415.56 416.43 L416.17 417.04 L416.78 417.65 L417.39 418.28 L417.99 418.90 L418.60 419.53" fill="none" stroke="#0a0aff" stroke-width="1.9" stroke-linejoin="round"/>
<path d="M175.60 470.64 L176.21 473.60 L176.81 476.52 L177.42 479.35 L178.03 482.07 L178.64 484.63 L179.25 487.03 L179.85 489.22 L180.46 491.20 L181.07 492.96 L181.67 494.49 L182.28 495.81 L182.89 496.93 L183.50 497.89 L184.10 498.73 L184.71 499.45 L185.32 500.09 L185.93 500.67 L186.53 501.19 L187.14 501.66 L187.75 502.09 L188.36 502.49 L188.97 502.86 L189.57 503.20 L190.18 503.52 L190.79 503.82 L191.40 504.10 L192.00 504.37 L192.61 504.62 L193.22 504.87 L193.82 505.10 L194.43 505.33 L195.04 505.55 L195.65 505.76 L196.25 505.97 L196.86 506.16 L197.47 506.34 L198.08 506.52 L198.69 506.68 L199.29 506.83 L199.90 506.97 L200.51 507.11 L201.12 507.23 L201.72 507.35 L202.33 507.46 L202.94 507.56 L203.55 507.67 L204.15 507.76 L204.76 507.86 L205.37 507.95 L205.97 508.03 L206.58 508.12 L207.19 508.19 L207.80 508.27 L208.41 508.34 L209.01 508.40 L209.62 508.47 L210.23 508.52 L210.84 508.58 L211.44 508.63 L212.05 508.68 L212.66 508.72 L213.26 508.77 L213.87 508.81 L214.48 508.85 L215.09 508.89 L215.69 508.92 L216.30 508.96 L216.91 509.00 L217.52 509.03 L218.12 509.06 L218.73 509.09 L219.34 509.12 L219.95 509.14 L220.56 509.16 L221.16 509.18 L221.77 509.20 L222.38 509.21 L222.99 509.22 L223.59 509.23 L224.20 509.23 L224.81 509.23 L225.42 509.23 L226.02 509.22 L226.63 509.22 L227.24 509.21 L227.84 509.20 L228.45 509.18 L229.06 509.17 L229.67 509.15 L230.28 509.14 L230.88 509.12 L231.49 509.10 L232.10 509.08 L232.71 509.06 L233.31 509.03 L233.92 509.01 L234.53 508.98 L235.14 508.96 L235.74 508.93 L236.35 508.90 L236.96 508.86 L237.56 508.83 L238.17 508.79 L238.78 508.74 L239.39 508.69 L240.00 508.64 L240.60 508.59 L241.21 508.53 L241.82 508.46 L242.43 508.39 L243.03 508.32 L243.64 508.25 L244.25 508.17 L244.86 508.09 L245.46 508.01 L246.07 507.93 L246.68 507.84 L247.29 507.75 L247.89 507.65 L248.50 507.55 L249.11 507.45 L249.72 507.34 L250.32 507.23 L250.93 507.11 L251.54 506.98 L252.15 506.84 L252.75 506.70 L253.36 506.56 L253.97 506.41 L254.57 506.25 L255.18 506.09 L255.79 505.92 L256.40 505.75 L257.00 505.57 L257.61 505.39 L258.22 505.21 L258.83 505.02 L259.44 504.83 L260.04 504.64 L260.65 504.45 L261.26 504.25 L261.87 504.05 L262.47 503.84 L263.08 503.63 L263.69 503.42 L264.30 503.20 L264.90 502.97 L265.51 502.74 L266.12 502.49 L266.73 502.24 L267.33 501.99 L267.94 501.72 L268.55 501.44 L269.16 501.15 L269.76 500.85 L270.37 500.54 L270.98 500.21 L271.59 499.86 L272.19 499.49 L272.80 499.09 L273.41 498.66 L274.01 498.21 L274.62 497.72 L275.23 497.20 L275.84 496.66 L276.45 496.09 L277.05 495.51 L277.66 494.91 L278.27 494.30 L278.88 493.68 L279.48 493.06 L280.09 492.43 L280.70 491.78 L281.31 491.11 L281.91 490.40 L282.52 489.63 L283.13 488.79 L283.74 487.84 L284.34 486.76 L284.95 485.53 L285.56 484.12 L286.17 482.53 L286.77 480.75 L287.38 478.79 L287.99 476.68 L288.60 474.45 L289.20 472.11 L289.81 469.71 L290.42 467.25 L291.03 464.76 L291.63 462.24 L292.24 459.69 L292.85 457.11 L293.46 454.51 L294.06 451.89 L294.67 449.25 L295.28 446.60 L295.88 443.94 L296.49 441.27 L297.10 438.60 L297.71 435.97 L298.32 433.34 L298.92 430.72 L299.53 428.11 L300.14 425.51 L300.75 422.93 L301.35 420.37 L301.96 417.83 L302.57 415.32 L303.18 412.83 L303.78 410.38 L304.39 407.96 L305.00 405.59 L305.61 403.29 L306.21 401.09 L306.82 399.01 L307.43 397.08 L308.04 395.33 L308.64 393.76 L309.25 392.38 L309.86 391.16 L310.47 390.10 L311.07 389.17 L311.68 388.33 L312.29 387.58 L312.90 386.88 L313.50 386.21 L314.11 385.58 L314.72 384.96 L315.33 384.34 L315.93 383.74 L316.54 383.14 L317.15 382.55 L317.75 381.97 L318.36 381.41 L318.97 380.87 L319.58 380.36 L320.19 379.89 L320.79 379.44 L321.40 379.02 L322.01 378.63 L322.62 378.26 L323.22 377.92 L323.83 377.59 L324.44 377.28 L325.05 376.99 L325.65 376.70 L326.26 376.43 L326.87 376.16 L327.48 375.91 L328.08 375.66 L328.69 375.43 L329.30 375.20 L329.91 374.97 L330.51 374.76 L331.12 374.54 L331.73 374.34 L332.34 374.13 L332.94 373.94 L333.55 373.74 L334.16 373.55 L334.77 373.36 L335.37 373.17 L335.98 372.99 L336.59 372.81 L337.20 372.63 L337.80 372.46 L338.41 372.29 L339.02 372.13 L339.62 371.97 L340.23 371.81 L340.84 371.66 L341.45 371.52 L342.06 371.38 L342.66 371.25 L343.27 371.12 L343.88 371.00 L344.49 370.89 L345.09 370.78 L345.70 370.68 L346.31 370.58 L346.92 370.49 L347.52 370.40 L348.13 370.31 L348.74 370.23 L349.35 370.15 L349.95 370.07 L350.56 370.00 L351.17 369.92 L351.78 369.85 L352.38 369.79 L352.99 369.72 L353.60 369.66 L354.21 369.61 L354.81 369.56 L355.42 369.51 L356.03 369.47 L356.63 369.43 L357.24 369.39 L357.85 369.36 L358.46 369.33 L359.07 369.30 L359.67 369.27 L360.28 369.25 L360.89 369.22 L361.50 369.20 L362.10 369.18 L362.71 369.16 L363.32 369.14 L363.93 369.12 L364.53 369.10 L365.14 369.09 L365.75 369.07 L366.36 369.06 L366.96 369.05 L367.57 369.04 L368.18 369.04 L368.79 369.03 L369.39 369.03 L370.00 369.03 L370.61 369.03 L371.22 369.04 L371.82 369.05 L372.43 369.06 L373.04 369.08 L373.65 369.10 L374.25 369.12 L374.86 369.14 L375.47 369.17 L376.08 369.20 L376.68 369.23 L377.29 369.26 L377.90 369.29 L378.50 369.33 L379.11 369.37 L379.72 369.41 L380.33 369.45 L380.94 369.49 L381.54 369.53 L382.15 369.57 L382.76 369.62 L383.37 369.67 L383.97 369.73 L384.58 369.78 L385.19 369.84 L385.80 369.91 L386.40 369.98 L387.01 370.05 L387.62 370.13 L388.23 370.21 L388.83 370.29 L389.44 370.38 L390.05 370.47 L390.66 370.57 L391.26 370.67 L391.87 370.78 L392.48 370.89 L393.09 371.00 L393.69 371.12 L394.30 371.25 L394.91 371.39 L395.52 371.54 L396.12 371.70 L396.73 371.87 L397.34 372.05 L397.95 372.25 L398.55 372.45 L399.16 372.66 L399.77 372.87 L400.38 373.10 L400.98 373.33 L401.59 373.57 L402.20 373.82 L402.81 374.08 L403.41 374.36 L404.02 374.65 L404.63 374.97 L405.24 375.30 L405.84 375.67 L406.45 376.06 L407.06 376.49 L407.67 376.95 L408.27 377.46 L408.88 378.03 L409.49 378.66 L410.10 379.38 L410.70 380.19 L411.31 381.14 L411.92 382.25 L412.53 383.55 L413.13 385.06 L413.74 386.79 L414.35 388.74 L414.96 390.90 L415.56 393.26 L416.17 395.78 L416.78 398.46 L417.39 401.25 L417.99 404.12 L418.60 407.04" fill="none" stroke="#c4161c" stroke-width="1.9" stroke-linejoin="round"/>
<rect x="175.6" y="349.6" width="243.00000000000003" height="178.0" fill="none" stroke="#222" stroke-width="1.1"/>
<text class="s" x="160.4" y="354.00" font-size="13" text-anchor="end" fill="#111">0.8</text>
<text class="s" x="160.4" y="376.25" font-size="13" text-anchor="end" fill="#111">0.6</text>
<text class="s" x="160.4" y="398.50" font-size="13" text-anchor="end" fill="#111">0.4</text>
<text class="s" x="160.4" y="420.75" font-size="13" text-anchor="end" fill="#111">0.2</text>
<text class="s" x="160.4" y="443.00" font-size="13" text-anchor="end" fill="#111">0.0</text>
<text class="s" x="160.4" y="465.25" font-size="13" text-anchor="end" fill="#111">-0.2</text>
<text class="s" x="160.4" y="487.50" font-size="13" text-anchor="end" fill="#111">-0.4</text>
<text class="s" x="160.4" y="509.75" font-size="13" text-anchor="end" fill="#111">-0.6</text>
<text class="s" x="160.4" y="532.00" font-size="13" text-anchor="end" fill="#111">-0.8</text>
<text class="s" x="175.60" y="458.9" font-size="13" text-anchor="middle" fill="#111">0</text>
<text class="s" x="199.90" y="458.9" font-size="13" text-anchor="middle" fill="#111">2</text>
<text class="s" x="224.20" y="458.9" font-size="13" text-anchor="middle" fill="#111">4</text>
<text class="s" x="248.50" y="458.9" font-size="13" text-anchor="middle" fill="#111">6</text>
<text class="s" x="272.80" y="458.9" font-size="13" text-anchor="middle" fill="#111">8</text>
<text class="s" x="297.10" y="458.9" font-size="13" text-anchor="middle" fill="#111">10</text>
<text class="s" x="321.40" y="458.9" font-size="13" text-anchor="middle" fill="#111">12</text>
<text class="s" x="345.70" y="458.9" font-size="13" text-anchor="middle" fill="#111">14</text>
<text class="s" x="370.00" y="458.9" font-size="13" text-anchor="middle" fill="#111">16</text>
<text class="s" x="394.30" y="458.9" font-size="13" text-anchor="middle" fill="#111">18</text>
<text class="s" x="418.60" y="458.9" font-size="13" text-anchor="middle" fill="#111">20</text>
<line x1="187.5" y1="362.3" x2="205" y2="362.3" stroke="#c4161c" stroke-width="1.9"/>
<line x1="187.5" y1="377.7" x2="205" y2="377.7" stroke="#0a0aff" stroke-width="1.9"/>
<text class="s" x="212.8" y="366" font-size="13.2" fill="#111">eight magnets</text>
<text class="s" x="212.8" y="381.6" font-size="13.2" fill="#111">four magnets</text>
<text class="s" x="296.6" y="542.4" font-size="13.4" font-weight="bold" text-anchor="middle" fill="#111">Distance [mm]</text>
<text class="s" transform="translate(133.6 439.3) rotate(-90)" font-size="15.2" font-weight="bold" text-anchor="middle" fill="#111">Magnetic flux density [T]</text>
</svg></body></html>
